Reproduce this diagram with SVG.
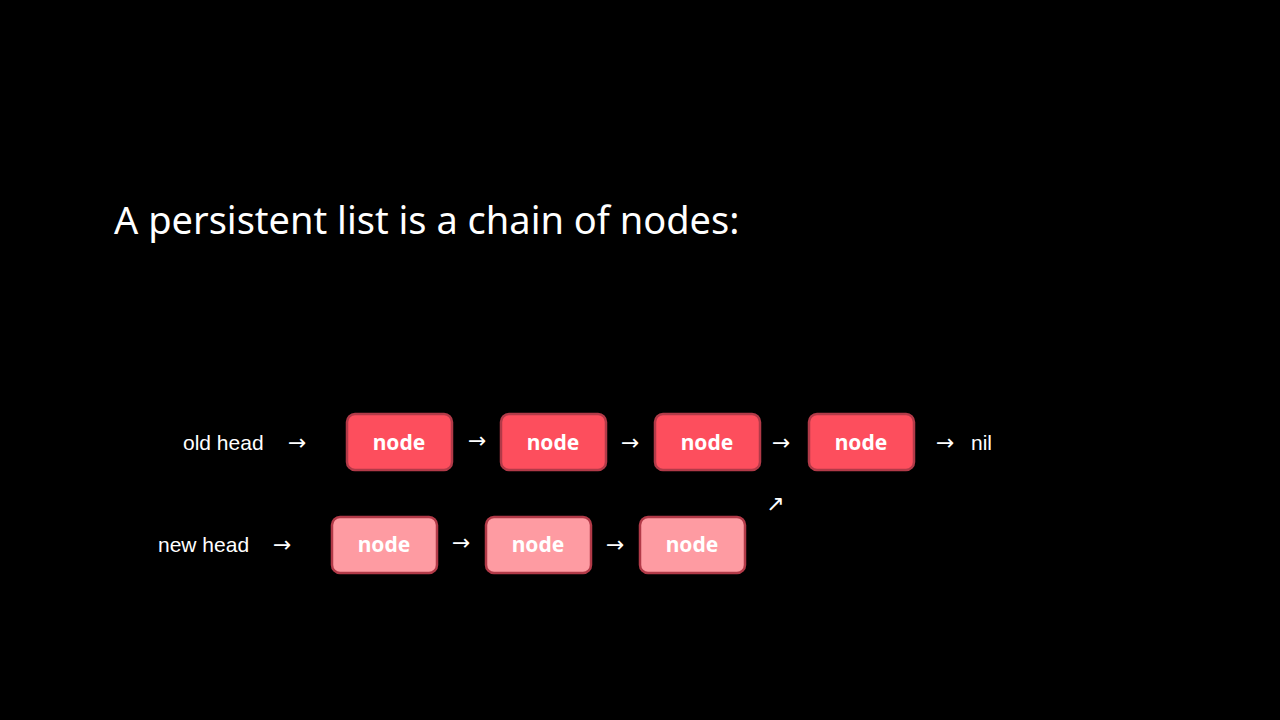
<svg xmlns="http://www.w3.org/2000/svg" width="1280" height="720" viewBox="0 0 1280 720">
<style>
.old rect{fill:#fd4e5d;stroke:#b23a48;stroke-width:2.5}
.new rect{fill:#fe9ba2;stroke:#b23a48;stroke-width:2.5}
.nt{font-family:"Noto Sans",sans-serif;font-weight:bold;font-size:21px;fill:#fff;text-anchor:middle}
.lb{font-family:"Liberation Sans",Arial,sans-serif;font-size:21px;fill:#fff}
.ar{font-family:"DejaVu Sans",sans-serif;font-size:22px;fill:#fff}
</style>
<rect width="1280" height="720" fill="#000"/>
<text x="114" y="234" font-family="Noto Sans,sans-serif" font-size="38" fill="#fff">A persistent list is a chain of nodes:</text>
<text class="lb" x="183" y="450">old head</text>
<text class="lb" x="158" y="552">new head</text>
<text class="lb" x="971" y="450">nil</text>
<g id="o1" class="old"><rect x="347" y="414" width="105" height="56" rx="8"/><text class="nt" x="399" y="450">node</text></g>
<g id="o2" class="old"><rect x="501" y="414" width="105" height="56" rx="8"/><text class="nt" x="553" y="450">node</text></g>
<g id="o3" class="old"><rect x="655" y="414" width="105" height="56" rx="8"/><text class="nt" x="707" y="450">node</text></g>
<g id="o4" class="old"><rect x="809" y="414" width="105" height="56" rx="8"/><text class="nt" x="861" y="450">node</text></g>
<g id="n1" class="new"><rect x="332" y="517" width="105" height="56" rx="8"/><text class="nt" x="384" y="552">node</text></g>
<g id="n2" class="new"><rect x="486" y="517" width="105" height="56" rx="8"/><text class="nt" x="538" y="552">node</text></g>
<g id="n3" class="new"><rect x="640" y="517" width="105" height="56" rx="8"/><text class="nt" x="692" y="552">node</text></g>
<g id="connectors">
<text class="ar" x="288" y="450">→</text>
<text class="ar" x="468" y="448">→</text>
<text class="ar" x="621" y="450">→</text>
<text class="ar" x="772" y="450">→</text>
<text class="ar" x="936" y="450">→</text>
<text class="ar" x="273" y="552">→</text>
<text class="ar" x="452" y="550">→</text>
<text class="ar" x="606" y="552">→</text>
<text class="ar" x="766" y="511">↗</text>
</g>
</svg>
